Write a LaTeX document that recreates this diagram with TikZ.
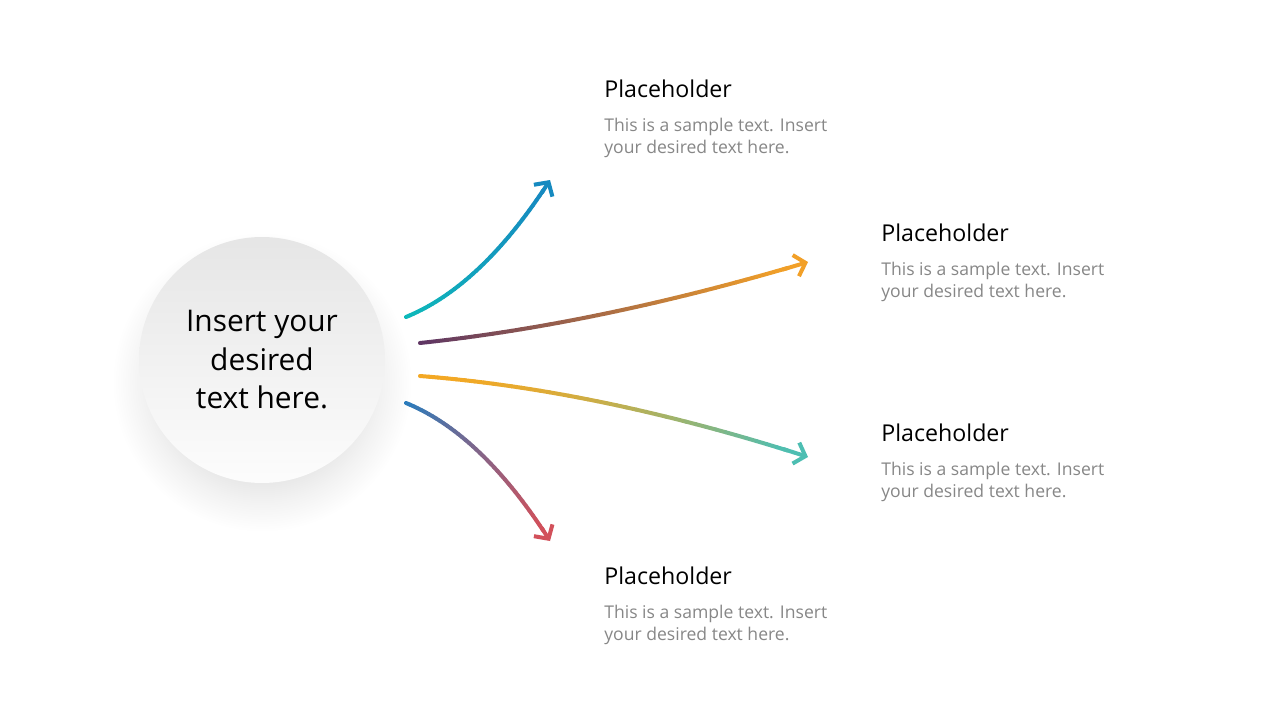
\documentclass[tikz,border=0pt]{standalone}
\usepackage{fontspec}
\setmainfont{Open Sans}
\usetikzlibrary{arrows.meta,calc}
\definecolor{tealglow}{RGB}{14, 186, 186}
\definecolor{oceanblue}{RGB}{22, 138, 192}
\definecolor{plum}{RGB}{92, 52, 100}
\definecolor{amber}{RGB}{242, 160, 40}
\definecolor{marigold}{RGB}{245, 168, 35}
\definecolor{seafoam}{RGB}{77, 190, 178}
\definecolor{steelblue}{RGB}{40, 125, 190}
\definecolor{rosered}{RGB}{210, 80, 90}
\definecolor{softgray}{RGB}{135, 135, 135}
\pgfdeclareradialshading{hubshadow}{\pgfpoint{0bp}{0bp}}{%
    color(0bp)=(black!13); color(15bp)=(black!11); color(20bp)=(black!5);
    color(25bp)=(white); color(50bp)=(white)}
\tikzset{
    hub/.style={circle, minimum size=4.92cm, inner sep=0pt, align=center,
                top color=black!10, bottom color=black!1,
                font=\fontsize{17}{21.9}\selectfont},
    ttl/.style={anchor=base west, inner sep=0pt, font=\fontsize{13.2}{15}\selectfont},
    txt/.style={anchor=base west, inner sep=0pt, align=left, text=softgray,
                font=\fontsize{10}{12.5}\selectfont},
    flow/.style={line width=0.8mm, line cap=round, line join=round},
    barbhead/.style={-{Straight Barb[length=2mm, width=4.4mm]}}
}
% curve from #1 over #2 to #3, coloured from #4 to #5, #6 bends the colour ramp
\newcommand{\gradflow}[6]{%
    \draw[flow, barbhead, #5] ($(#3)!0.12!(#2)$) -- (#3);
    \foreach \i in {1,...,38}{%
        \pgfmathsetmacro{\ta}{(\i-1)/40}%
        \pgfmathsetmacro{\tb}{\i/40}%
        \pgfmathtruncatemacro{\mix}{100-100*((\i-0.5)/38)^#6}%
        \draw[flow, draw=#4!\mix!#5]
            ($ {(1-\ta)*(1-\ta)}*(#1) + {2*\ta*(1-\ta)}*(#2) + {\ta*\ta}*(#3) $) --
            ($ {(1-\tb)*(1-\tb)}*(#1) + {2*\tb*(1-\tb)}*(#2) + {\tb*\tb}*(#3) $);
    }%
}
\begin{document}
\begin{tikzpicture}[x=0.02cm, y=-0.02cm]
    % Frame
    \fill[white] (0, 0) rectangle (1280, 720);
    \useasboundingbox (0, 0) rectangle (1280, 720);
    % Centre circle and its shadow
    \shade[shading=hubshadow] (262, 382) circle (150);
    \node[hub] (hub) at (262, 360) {Insert your\\desired\\text here.};
    % Curve points
    \coordinate (upS)  at (406, 317);  \coordinate (upC)  at (482, 286);  \coordinate (upE)  at (550, 180);
    \coordinate (hiS)  at (420, 343);  \coordinate (hiC)  at (600, 324);  \coordinate (hiE)  at (808, 262);
    \coordinate (loS)  at (420, 376);  \coordinate (loC)  at (600, 390);  \coordinate (loE)  at (808, 457);
    \coordinate (dnS)  at (406, 403);  \coordinate (dnC)  at (482, 434);  \coordinate (dnE)  at (550, 541);
    % Arrows
    \gradflow{upS}{upC}{upE}{tealglow}{oceanblue}{1}
    \gradflow{hiS}{hiC}{hiE}{plum}{amber}{1}
    \gradflow{loS}{loC}{loE}{marigold}{seafoam}{2}
    \gradflow{dnS}{dnC}{dnE}{steelblue}{rosered}{1}
    % Text blocks
    \node[ttl] (t1) at (604,  97) {Placeholder};
    \node[txt] (b1) at (604, 153) {This is a sample text. Insert\\your desired text here.};
    \node[ttl] (t2) at (881, 241) {Placeholder};
    \node[txt] (b2) at (881, 297) {This is a sample text. Insert\\your desired text here.};
    \node[ttl] (t3) at (881, 441) {Placeholder};
    \node[txt] (b3) at (881, 497) {This is a sample text. Insert\\your desired text here.};
    \node[ttl] (t4) at (604, 584) {Placeholder};
    \node[txt] (b4) at (604, 640) {This is a sample text. Insert\\your desired text here.};
\end{tikzpicture}
\end{document}
